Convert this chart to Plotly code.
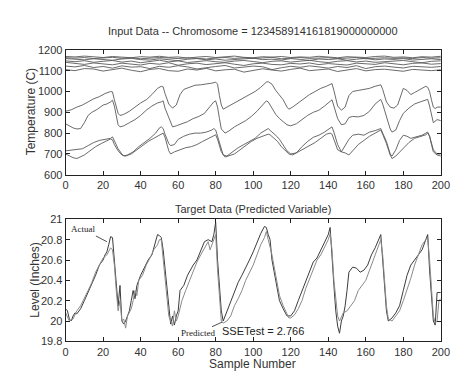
import plotly.graph_objects as go

# ---------------- data ----------------
x_noisy = [0, 5, 10, 15, 20, 25, 30, 35, 40, 45, 50, 55, 60, 65, 70, 75, 80, 85, 90, 95, 100,
           105, 110, 115, 120, 125, 130, 135, 140, 145, 150, 155, 160, 165, 170, 175, 180, 185, 190, 195, 200]
T1 = [1168,1166,1170,1165,1163,1168,1166,1162,1167,1165,1169,1164,1166,1160,1165,1168,1163,1166,1170,1164,1162,1167,1165,1168,1163,1166,1164,1169,1165,1162,1167,1166,1163,1168,1170,1164,1166,1162,1167,1165,1169]
T7 = [1162,1160,1163,1158,1161,1164,1159,1162,1157,1160,1163,1161,1158,1162,1160,1156,1161,1163,1159,1162,1158,1160,1164,1157,1161,1163,1159,1160,1162,1158,1161,1163,1157,1160,1162,1159,1161,1158,1163,1160,1162]
T2 = [1158,1155,1152,1157,1154,1150,1156,1159,1153,1151,1157,1154,1148,1155,1158,1152,1156,1150,1154,1157,1160,1153,1155,1151,1158,1154,1149,1156,1153,1157,1150,1155,1159,1152,1156,1154,1158,1151,1155,1157,1153]
T3 = [1147,1143,1148,1140,1145,1149,1141,1146,1138,1144,1150,1142,1147,1139,1145,1148,1143,1140,1146,1149,1144,1138,1145,1147,1141,1146,1150,1143,1139,1145,1148,1142,1146,1140,1144,1147,1149,1143,1138,1145,1147]
T4 = [1140,1134,1130,1137,1132,1128,1136,1133,1127,1135,1131,1138,1126,1133,1136,1129,1134,1138,1131,1125,1133,1136,1130,1128,1135,1132,1137,1129,1134,1131,1127,1136,1133,1130,1138,1132,1128,1135,1137,1131,1134]
T5 = [1122,1118,1125,1115,1120,1112,1123,1117,1119,1110,1121,1116,1124,1118,1108,1115,1120,1125,1113,1117,1122,1119,1105,1114,1121,1116,1123,1118,1112,1120,1115,1124,1110,1119,1122,1117,1113,1121,1118,1116,1120]
T6 = [1105,1100,1110,1108,1098,1104,1112,1102,1095,1106,1110,1100,1097,1108,1103,1111,1099,1104,1107,1093,1101,1109,1103,1098,1106,1112,1100,1104,1108,1096,1103,1110,1099,1105,1107,1101,1097,1106,1103,1100,1104]

# (sample, temperature) pairs for the four cyclic input series
A = [(0,905),(3,912),(6,925),(9,935),(12,950),(15,965),(18,975),(21,990),(24,1000),(25,998),(26,960),(27,920),(28,895),(29,885),(31,890),(34,905),(37,925),(40,945),(43,960),(46,985),(49,1015),(51,1025),(52,1022),(53,990),(55,940),(57,920),(59,935),(61,985),(63,1010),(66,1020),(69,1030),(72,1032),(75,1035),(78,1040),(80,1045),(81,1035),(82,980),(83,935),(84,915),(86,925),(89,940),(92,955),(95,970),(98,985),(101,1000),(104,1020),(107,1045),(108,1047),(110,1035),(112,1005),(114,985),(116,960),(118,925),(119,915),(121,925),(124,945),(127,965),(130,985),(133,1000),(136,1015),(139,1025),(141,1035),(142,1038),(143,1005),(145,930),(147,910),(149,925),(151,980),(153,1000),(156,1005),(159,1010),(162,1015),(165,1025),(167,1030),(168,1032),(169,1010),(171,950),(173,925),(175,920),(177,935),(179,995),(180,1015),(182,1005),(184,985),(186,995),(188,1005),(190,1015),(192,1025),(193,1020),(194,1000),(195,960),(196,925),(197,918),(198,925),(200,925)]
B = [(0,845),(2,835),(4,825),(6,820),(8,822),(10,850),(12,885),(14,900),(17,915),(20,935),(22,940),(24,950),(25,958),(26,930),(27,880),(28,840),(29,830),(31,835),(34,850),(37,865),(40,885),(43,910),(46,930),(49,945),(51,950),(52,955),(53,920),(55,870),(57,830),(59,835),(62,845),(65,855),(68,870),(71,880),(74,895),(77,930),(79,950),(80,955),(81,925),(82,870),(83,820),(85,800),(87,810),(90,830),(93,845),(96,860),(99,880),(102,905),(105,935),(107,955),(108,950),(110,920),(112,890),(114,870),(116,855),(118,840),(120,835),(123,845),(126,865),(129,885),(132,900),(135,910),(138,930),(141,950),(142,960),(143,930),(145,870),(147,840),(149,845),(151,875),(153,880),(156,878),(159,885),(162,905),(165,940),(167,955),(168,962),(169,940),(171,880),(173,820),(174,805),(176,815),(178,860),(180,895),(183,920),(186,940),(189,950),(192,958),(193,962),(194,930),(195,880),(196,850),(198,865),(200,860)]
C = [(0,715),(3,718),(6,720),(9,725),(12,740),(15,755),(18,765),(21,770),(24,775),(25,782),(26,765),(27,745),(28,725),(30,700),(31,690),(33,695),(36,710),(39,735),(42,755),(45,775),(48,800),(50,825),(51,830),(52,822),(53,795),(55,750),(56,740),(58,745),(60,770),(63,785),(66,795),(69,800),(72,800),(75,805),(78,815),(79,822),(80,815),(82,760),(84,695),(86,690),(89,710),(92,730),(95,745),(98,760),(101,775),(104,800),(107,818),(108,822),(110,805),(112,790),(114,770),(116,745),(118,715),(120,700),(123,705),(126,735),(129,760),(132,780),(135,790),(138,805),(141,825),(142,830),(143,805),(145,745),(147,710),(149,740),(151,770),(153,790),(156,795),(159,790),(162,805),(165,812),(167,818),(168,822),(169,800),(171,760),(173,700),(174,690),(176,720),(178,765),(180,790),(182,785),(184,775),(186,780),(188,785),(190,790),(192,800),(193,805),(194,785),(195,750),(196,720),(198,700),(200,700)]
D = [(0,700),(2,690),(4,682),(6,678),(8,685),(10,695),(13,715),(16,735),(19,750),(22,765),(24,772),(25,768),(26,745),(28,715),(30,695),(32,690),(35,700),(38,720),(41,740),(44,760),(47,775),(50,790),(52,800),(53,780),(55,715),(56,700),(58,710),(61,720),(64,730),(67,735),(70,745),(73,760),(76,775),(79,790),(80,792),(81,770),(83,710),(85,685),(87,690),(90,700),(93,720),(96,740),(99,760),(102,775),(105,785),(108,795),(109,792),(111,775),(113,760),(115,735),(117,715),(119,700),(121,695),(124,710),(127,725),(130,740),(133,755),(136,775),(139,795),(141,800),(142,795),(143,770),(145,720),(147,710),(149,705),(151,695),(153,715),(156,745),(159,765),(162,785),(165,800),(167,812),(168,815),(169,795),(171,750),(173,695),(174,678),(176,690),(178,710),(180,730),(183,755),(186,775),(189,785),(192,792),(193,800),(194,785),(195,745),(196,710),(198,695),(200,690)]

# (sample, level) pairs for the target variable
actual = [(0,20.12),(1,20.10),(2,20.02),(3,20.0),(4,20.05),(5,20.08),(6,20.07),(7,20.1),(8,20.12),(10,20.2),(12,20.28),(14,20.36),(16,20.45),(18,20.55),(20,20.6),(21,20.65),(22,20.68),(23,20.75),(24,20.83),(25,20.82),(26,20.6),(27,20.3),(28,20.15),(29,20.35),(30,20.0),(31,19.97),(32,20.0),(33,20.05),(34,20.1),(35,20.2),(36,20.3),(37,20.22),(38,20.35),(40,20.45),(42,20.52),(44,20.6),(46,20.65),(48,20.8),(49,20.85),(50,20.84),(51,20.82),(52,20.7),(53,20.5),(54,20.3),(55,20.1),(56,19.97),(57,20.05),(58,19.96),(59,20.05),(60,20.1),(61,20.3),(63,20.35),(65,20.45),(68,20.55),(70,20.6),(72,20.7),(74,20.78),(76,20.8),(78,20.78),(79,20.85),(80,20.97),(81,20.6),(82,20.3),(83,20.1),(84,20.0),(85,20.05),(86,20.1),(88,20.2),(90,20.3),(92,20.38),(94,20.45),(96,20.52),(98,20.6),(100,20.68),(102,20.78),(104,20.86),(106,20.93),(107,20.92),(108,20.85),(109,20.8),(110,20.6),(112,20.4),(113,20.3),(114,20.2),(116,20.12),(118,20.05),(120,20.05),(122,20.1),(124,20.2),(126,20.3),(128,20.4),(130,20.5),(132,20.58),(134,20.62),(136,20.7),(138,20.78),(140,20.85),(141,20.92),(142,20.6),(143,20.35),(144,20.1),(145,19.95),(146,19.88),(147,20.0),(148,20.05),(149,20.15),(150,20.3),(151,20.48),(153,20.53),(155,20.52),(157,20.48),(159,20.5),(161,20.55),(163,20.65),(165,20.72),(167,20.82),(168,20.85),(169,20.6),(170,20.3),(171,20.1),(172,20.0),(174,20.03),(176,20.08),(178,20.15),(180,20.3),(182,20.45),(184,20.55),(186,20.6),(188,20.65),(190,20.7),(192,20.8),(193,20.85),(194,20.5),(195,20.2),(196,20.0),(197,19.96),(198,20.28),(200,20.28)]
predicted = [(0,20.08),(2,20.0),(4,20.02),(6,20.1),(8,20.15),(10,20.22),(12,20.3),(14,20.38),(16,20.48),(18,20.55),(20,20.62),(22,20.65),(23,20.68),(24,20.72),(25,20.7),(26,20.55),(27,20.3),(28,20.1),(29,20.2),(30,20.0),(31,20.02),(32,19.93),(33,20.05),(35,20.12),(36,20.2),(37,20.3),(38,20.25),(39,20.4),(41,20.45),(43,20.55),(45,20.62),(47,20.7),(49,20.75),(50,20.8),(51,20.8),(52,20.6),(53,20.45),(54,20.25),(55,20.05),(56,20.0),(57,19.95),(58,20.1),(59,20.0),(60,20.05),(62,20.2),(64,20.3),(66,20.4),(68,20.5),(70,20.58),(72,20.65),(74,20.72),(76,20.78),(77,20.7),(78,20.75),(79,20.8),(80,20.85),(81,20.5),(82,20.2),(83,20.0),(84,19.98),(86,20.0),(88,20.05),(90,20.15),(92,20.22),(94,20.3),(96,20.4),(98,20.48),(100,20.55),(102,20.65),(104,20.75),(106,20.82),(107,20.88),(108,20.8),(110,20.65),(112,20.45),(113,20.35),(114,20.25),(116,20.15),(118,20.08),(119,20.03),(120,20.03),(122,20.06),(124,20.12),(126,20.2),(128,20.32),(130,20.42),(132,20.52),(134,20.6),(136,20.65),(138,20.72),(140,20.8),(141,20.86),(142,20.7),(143,20.4),(144,20.2),(145,20.05),(146,20.0),(148,20.08),(150,20.1),(152,20.15),(154,20.2),(156,20.3),(158,20.35),(160,20.4),(162,20.5),(164,20.6),(166,20.72),(168,20.8),(169,20.65),(170,20.35),(171,20.15),(172,20.02),(174,20.0),(176,20.05),(178,20.1),(180,20.2),(182,20.3),(184,20.42),(186,20.55),(188,20.65),(190,20.75),(192,20.8),(193,20.82),(194,20.6),(195,20.3),(196,20.05),(197,19.98),(198,20.0),(199,20.2),(200,20.22)]

top_title = "Input Data -- Chromosome = 123458914161819000000000"
bottom_title = "Target Data (Predicted Variable)"
sse_text = "SSETest = 2.766"

# ---------------- figure ----------------
LINE = "#5a5a5a"
FONT = "Liberation Sans, Arial, sans-serif"
fig = go.Figure()

for s in [T1, T7, T2, T3, T4, T5, T6]:
    fig.add_trace(go.Scatter(x=x_noisy[:len(s)], y=s, mode="lines",
                             line=dict(color=LINE, width=0.9), xaxis="x", yaxis="y"))
for s in [A, B, C, D]:
    xs, ys = zip(*s)
    fig.add_trace(go.Scatter(x=list(xs), y=list(ys), mode="lines",
                             line=dict(color=LINE, width=0.9), xaxis="x", yaxis="y"))

xa, ya = zip(*actual)
fig.add_trace(go.Scatter(x=list(xa), y=list(ya), mode="lines", name="Actual",
                         line=dict(color="#3c3c3c", width=1), xaxis="x2", yaxis="y2"))
xp, yp = zip(*predicted)
fig.add_trace(go.Scatter(x=list(xp), y=list(yp), mode="lines", name="Predicted",
                         line=dict(color="#8a8a8a", width=1), xaxis="x2", yaxis="y2"))

W, H = 474, 381
L, R = 56, 441
def ydom(top, bot):
    return [(H - bot) / H, (H - top) / H]

axis_common = dict(showline=True, linecolor="#222", linewidth=1, mirror="ticks",
                   ticks="inside", ticklen=4, tickcolor="#222", showgrid=False,
                   zeroline=False, tickfont=dict(family=FONT, size=11, color="#333"))

fig.update_layout(
    width=W, height=H, margin=dict(l=0, r=0, t=0, b=0),
    paper_bgcolor="white", plot_bgcolor="white", showlegend=False,
    font=dict(family=FONT, size=11, color="#333"),
    xaxis=dict(domain=[L / W, R / W], range=[0, 200], dtick=20, anchor="y", **axis_common),
    yaxis=dict(domain=ydom(37, 166), range=[600, 1200], dtick=100, anchor="x", **axis_common),
    xaxis2=dict(domain=[L / W, R / W], range=[0, 200], dtick=20, anchor="y2", **axis_common),
    yaxis2=dict(domain=ydom(212, 338), range=[19.8, 21], dtick=0.2, anchor="x2", **axis_common),
)

def pa(text, px, py, size=11, angle=0, family=FONT):
    fig.add_annotation(text=text, x=px / W, y=(H - py) / H, xref="paper", yref="paper",
                       showarrow=False, textangle=angle, xanchor="center", yanchor="middle",
                       font=dict(family=family, size=size, color="#333"))

pa(top_title, 248, 18)
pa(bottom_title, 248, 201)
pa("Sample Number", 248, 361, size=12)
pa("Temperature (C)", 20, 101, size=12, angle=-90)
pa("Level (Inches)", 25, 275, size=12, angle=-90)

SERIF = "Liberation Serif, Times New Roman, serif"
fig.add_annotation(text="Actual", x=22, y=20.78, ax=9.5, ay=20.9, xref="x2", yref="y2",
                   axref="x2", ayref="y2", showarrow=True, arrowhead=0, arrowwidth=0.8,
                   arrowcolor="#222", font=dict(family=SERIF, size=9, color="#222"))
fig.add_annotation(text="Predicted", x=83.5, y=19.99, ax=70.5, ay=19.88, xref="x2", yref="y2",
                   axref="x2", ayref="y2", showarrow=True, arrowhead=0, arrowwidth=0.8,
                   arrowcolor="#222", font=dict(family=SERIF, size=9, color="#222"))
fig.add_annotation(text=sse_text, x=105, y=19.9, xref="x2", yref="y2", showarrow=False,
                   font=dict(family=FONT, size=11, color="#222"))

fig.write_html("out.html")
